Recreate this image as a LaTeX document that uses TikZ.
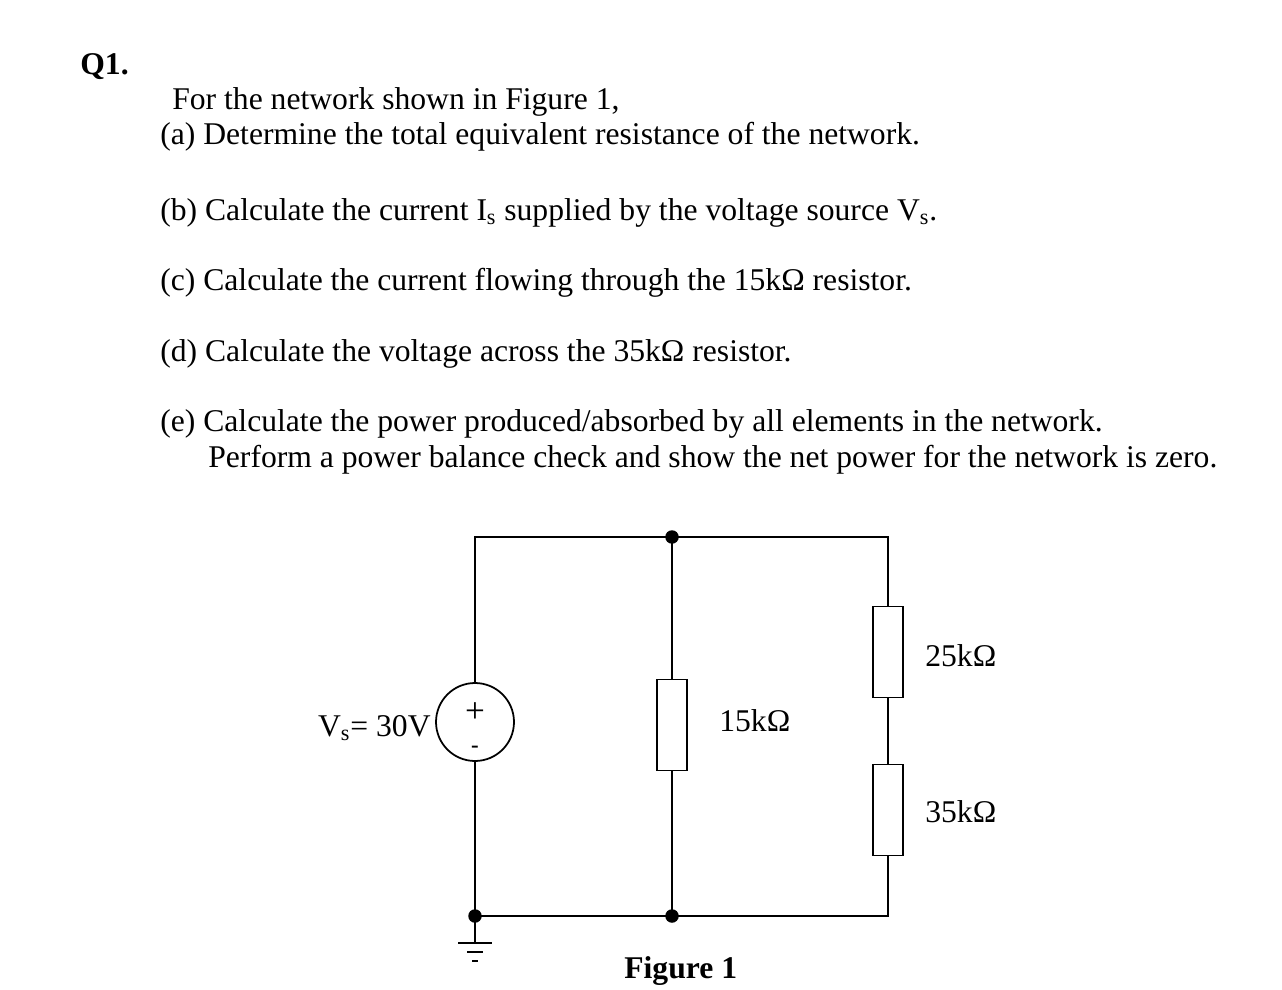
\documentclass[tikz,border=0pt]{standalone}
\usepackage{fontspec}
\setmainfont{Liberation Serif}
\begin{document}
\begin{tikzpicture}[x=0.02cm,y=-0.02cm,
  txt/.style={anchor=base west,inner sep=0pt,font=\fontsize{18}{20}\selectfont},
  res/.style={draw,line width=1pt,minimum width=0.6cm,minimum height=1.82cm,inner sep=0pt},
  wire/.style={line width=1pt},
  dot/.style={circle,fill,inner sep=0pt,minimum size=0.27cm}]
\useasboundingbox (0,0) rectangle (1282,990);
% question text
\node[txt,font=\fontsize{18}{20}\selectfont\bfseries] (q) at (80,75) {Q1.};
\node[txt] (l0) at (172,110) {For the network shown in Figure 1,};
\node[txt] (la) at (160,145) {(a) Determine the total equivalent resistance of the network.};
\node[txt] (lb) at (160,220) {(b) Calculate the current I\textsubscript{s} supplied by the voltage source V\textsubscript{s}.};
\node[txt] (lc) at (160,290) {(c) Calculate the current flowing through the 15kΩ resistor.};
\node[txt] (ld) at (160,361) {(d) Calculate the voltage across the 35kΩ resistor.};
\node[txt] (le) at (160,431) {(e) Calculate the power produced/absorbed by all elements in the network.};
\node[txt] (le2) at (208,467) {Perform a power balance check and show the net power for the network is zero.};
% circuit nodes
\coordinate (tl) at (475,537);
\coordinate (tr) at (888,537);
\coordinate (br) at (888,916);
\node[dot] (dt) at (672,537) {};
\node[dot] (dbl) at (475,916) {};
\node[dot] (dbm) at (672,916) {};
\node[draw,circle,line width=1pt,minimum size=1.56cm,inner sep=0pt] (vs) at (475,722) {};
\node[font=\fontsize{20}{22}\selectfont] (vp) at (475,713) {+};
\node[font=\bfseries\fontsize{13}{14}\selectfont] (vm) at (475,749) {-};
\node[res] (r15) at (672,725) {};
\node[res] (r25) at (888,652) {};
\node[res] (r35) at (888,810) {};
% wires
\draw[wire] (vs.north) -- (tl) -- (tr) -- (r25.north);
\draw[wire] (r25.south) -- (r35.north);
\draw[wire] (r35.south) -- (br) -- (dbl.center) -- (vs.south);
\draw[wire] (dt.center) -- (r15.north);
\draw[wire] (r15.south) -- (dbm.center);
% ground
\coordinate (g0) at (475,943);
\draw[wire] (dbl.center) -- (g0);
\draw[wire] (458,943) -- (492,943);
\draw[wire] (467,952) -- (483,952);
\draw[wire] (472,961) -- (478,961);
% labels
\node[txt,anchor=base east] (lvs) at (431,736) {V\textsubscript{s}= 30V};
\node[txt] (l15) at (719,731) {15kΩ};
\node[txt] (l25) at (925,666) {25kΩ};
\node[txt] (l35) at (925,822) {35kΩ};
\node[txt,font=\fontsize{18}{20}\selectfont\bfseries] (fig) at (624,978) {Figure 1};
\end{tikzpicture}
\end{document}
